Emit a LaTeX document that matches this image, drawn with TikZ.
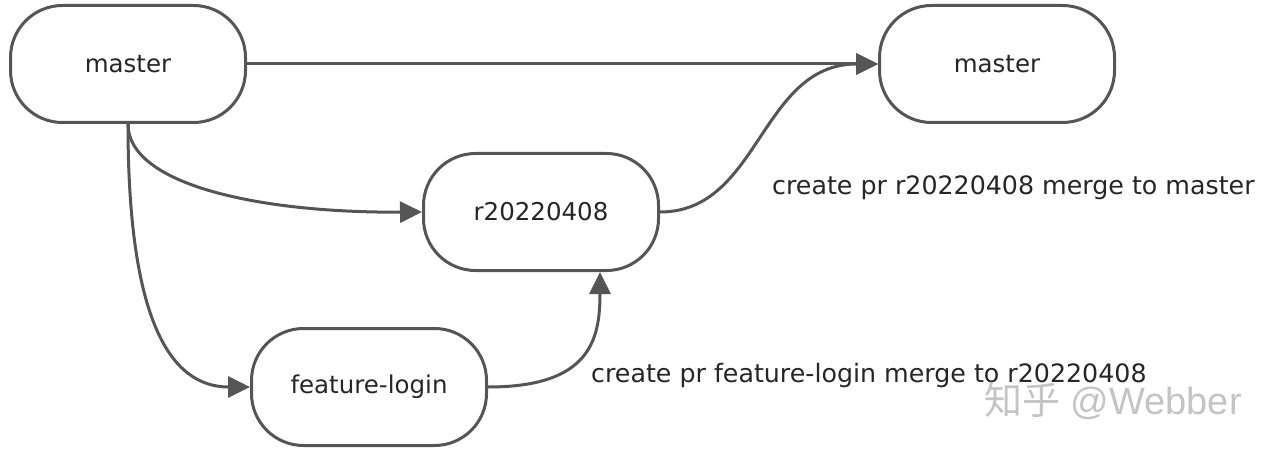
\documentclass[tikz,border=0pt]{standalone}
\usepackage{fontspec}
\setmainfont{DejaVu Sans}
\newfontfamily\cjk{Noto Sans CJK SC}
\newfontfamily\wmfont{Liberation Sans}
\usetikzlibrary{arrows.meta}
\definecolor{edge}{HTML}{555555}
\definecolor{wm}{HTML}{C4C4C4}
\tikzset{
  pill/.style={draw=edge, line width=3pt, rounded corners=52pt, minimum width=235pt, minimum height=117pt, fill=white, font=\fontsize{24.5}{28}\selectfont, text=black!85},
  conn/.style={draw=edge, line width=3pt, -{Triangle[length=22pt,width=21pt]}},
  lbl/.style={anchor=west, font=\fontsize{25.3}{28}\selectfont, text=black!85, inner sep=0pt}
}
\begin{document}
\begin{tikzpicture}[x=1pt,y=-1pt]
\useasboundingbox (0,0) rectangle (1276,449);
\node[pill] (m1) at (128,64) {master};
\node[pill] (m2) at (997,64) {master};
\node[pill] (r) at (541,212) {r20220408};
\node[pill] (f) at (369,387) {feature-login};
\draw[conn] (m1.east) -- (m2.west);
\draw[conn] (m1.south) .. controls (128,185) and (260,213) .. (r.west);
\draw[conn] (m1.south) .. controls (128,320) and (170,387) .. (f.west);
\draw[conn] (r.east) .. controls (760,212) and (760,64) .. (m2.west);
\draw[conn] (f.east) .. controls (590,387) and (600,340) .. (r.south -| 600,0);
\node[lbl] (l1) at (772,188) {create pr r20220408 merge to master};
\node[lbl] (l2) at (591,376) {create pr feature-login merge to r20220408};
\node[anchor=west, inner sep=0pt, text=wm, font=\wmfont\fontsize{38}{40}\selectfont] (wmk) at (984,401) {{\cjk 知乎} @Webber};
\end{tikzpicture}
\end{document}
